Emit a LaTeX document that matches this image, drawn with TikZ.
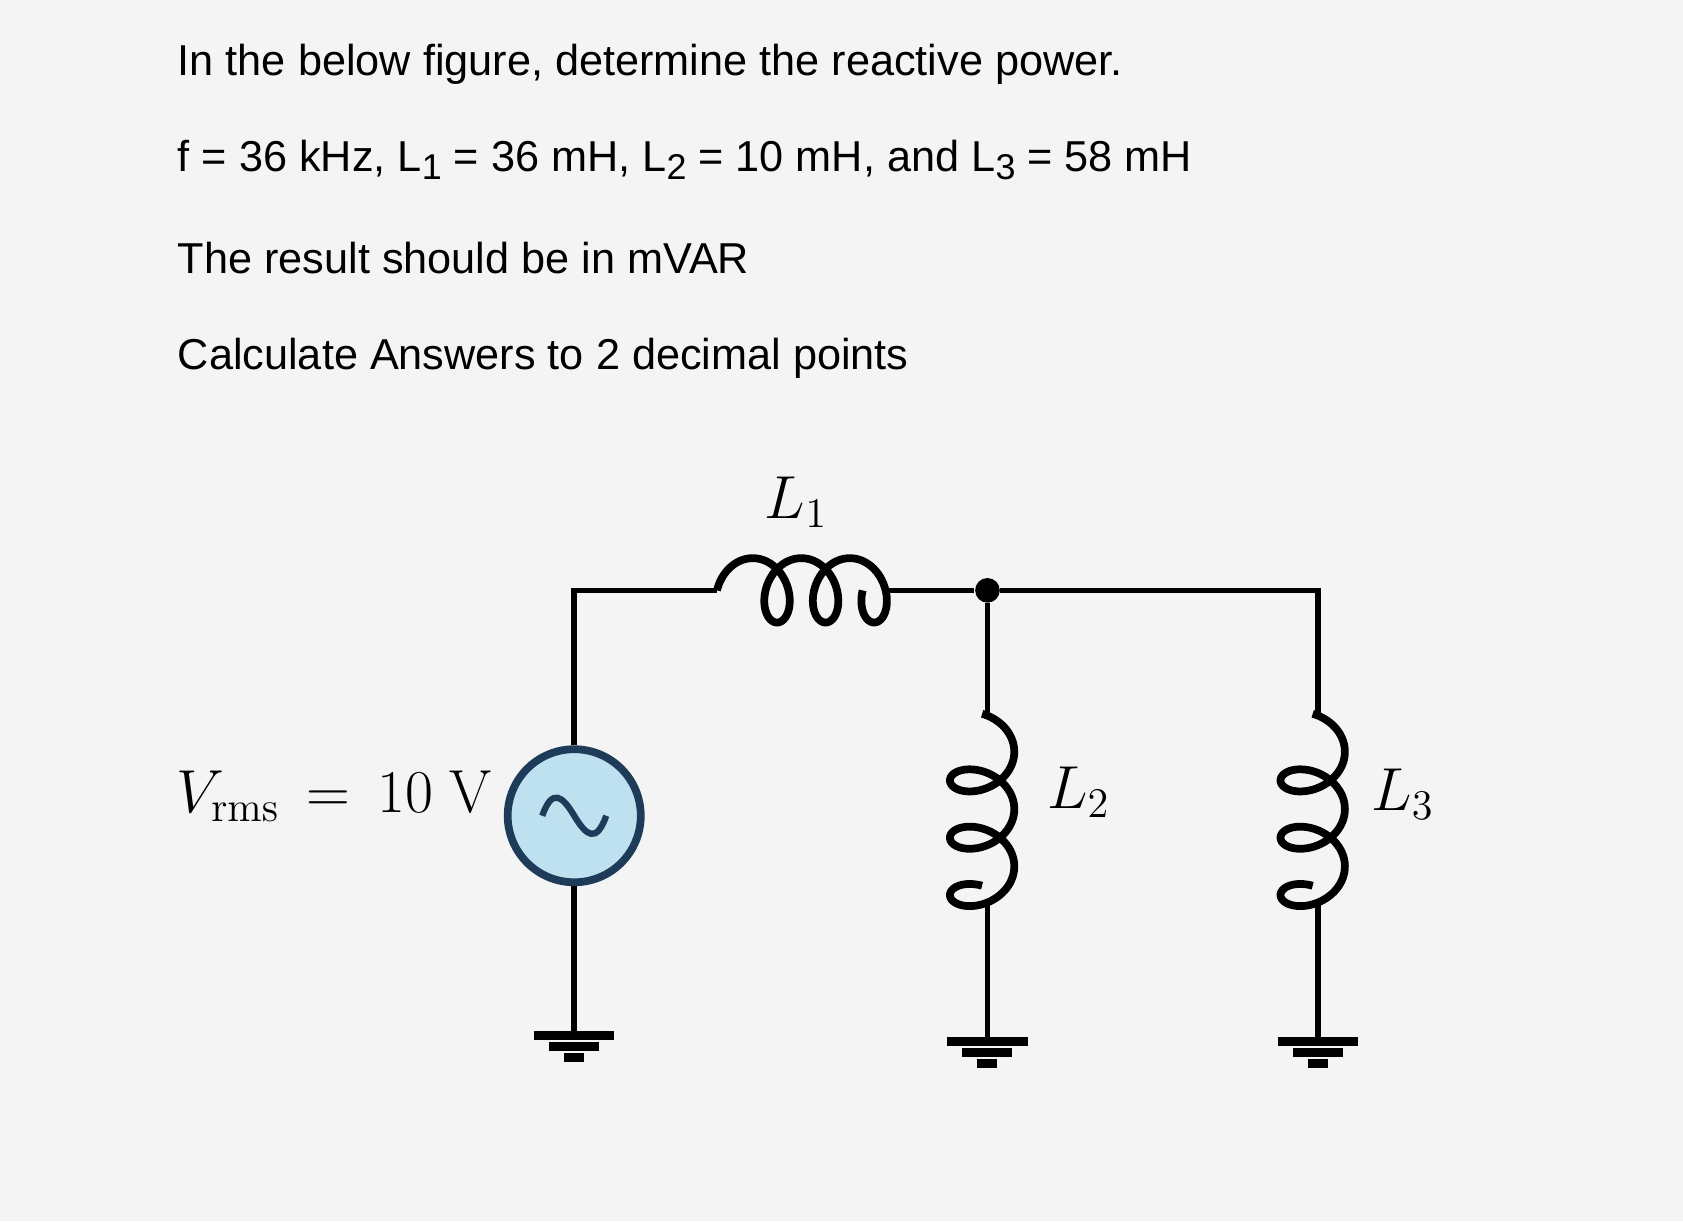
\documentclass[tikz,border=0pt]{standalone}
\usepackage{amsmath}
\usepackage[no-math]{fontspec}
\setmainfont{Liberation Sans}
\usetikzlibrary{positioning}
\definecolor{srcfill}{RGB}{190,225,240}
\definecolor{srcdraw}{RGB}{30,60,90}
\newcommand{\lsub}[1]{\raisebox{-0.35ex}{\fontsize{10.2}{12}\selectfont #1}}
\tikzset{
  wire/.style={line width=1.6pt},
  coil/.style={line width=2.2pt},
  qtext/.style={anchor=base west, font=\fontsize{12.3}{15}\selectfont, inner sep=0pt},
  lbl/.style={font=\fontsize{17}{20}\selectfont, inner sep=0pt},
  gnd/.style={line width=2.6pt}
}
\begin{document}
\begin{tikzpicture}[x=0.010733cm, y=-0.010733cm]
\fill[gray!9] (0,0) rectangle (1568,1138);
\useasboundingbox (0,0) rectangle (1568,1138);

% question text
\node (q1) [qtext] at (165,70) {In the below figure, determine the reactive power.};
\node (q2) [qtext] at (165,160) {f = 36 kHz, L\lsub{1} = 36 mH, L\lsub{2} = 10 mH, and L\lsub{3} = 58 mH};
\node (q3) [qtext] at (165,255) {The result should be in mVAR};
\node (q4) [qtext] at (165,344) {Calculate Answers to 2 decimal points};

% circuit
\node (src) [circle, draw=srcdraw, fill=srcfill, line width=2.2pt, minimum size=1.33cm, inner sep=0pt] at (535,760) {};
\draw[line width=1.8pt, srcdraw] ([xshift=-0.32cm]src.center) .. controls +(0.1cm,0.28cm) and +(-0.12cm,0.2cm) .. (src.center) .. controls +(0.12cm,-0.2cm) and +(-0.1cm,-0.28cm) .. ([xshift=0.32cm]src.center);
\coordinate (tl) at (535,550);
\coordinate (l1a) at (668,550);
\coordinate (l1b) at (826,550);
\coordinate (top) at (1228,550);
\coordinate (l2a) at (920,665);
\coordinate (l2b) at (920,840);
\coordinate (l3a) at (1228,665);
\coordinate (l3b) at (1228,840);
\coordinate (g1) at (535,965);
\coordinate (g2) at (920,970);
\coordinate (g3) at (1228,970);
\node (nA) [circle, fill, inner sep=0pt, minimum size=7pt] at (920,550) {};

\draw[wire] (src.north) -- (tl) -- (l1a);
\draw[coil] plot[domain=0:18.85, samples=200, smooth] ({690+7.2*\x-22*cos(\x r)}, {550-30*sin(\x r)});
\draw[wire] (l1b) -- (nA) -- (top) -- (l3a);
\draw[wire] (nA) -- (l2a);
\draw[coil] plot[domain=0:18.85, samples=200, smooth] ({915+30*sin(\x r)}, {687+8.5*\x-22*cos(\x r)});
\draw[coil] plot[domain=0:18.85, samples=200, smooth] ({1223+30*sin(\x r)}, {687+8.5*\x-22*cos(\x r)});
\draw[wire] (src.south) -- (g1);
\draw[wire] (l2b) -- (g2);
\draw[wire] (l3b) -- (g3);

% grounds
\foreach \g in {g1,g2,g3}{
  \draw[gnd] ([xshift=-0.4cm]\g) -- ([xshift=0.4cm]\g);
  \draw[gnd] ([xshift=-0.25cm,yshift=-0.11cm]\g) -- ([xshift=0.25cm,yshift=-0.11cm]\g);
  \draw[gnd] ([xshift=-0.1cm,yshift=-0.22cm]\g) -- ([xshift=0.1cm,yshift=-0.22cm]\g);
}

% labels
\node (vl) [lbl] at (312,742) {$V_{\mathrm{rms}} \,=\, 10\ \mathrm{V}$};
\node (lb1) [lbl] at (742,468) {$L_1$};
\node (lb2) [lbl] at (1005,738) {$L_2$};
\node (lb3) [lbl] at (1307,740) {$L_3$};
\end{tikzpicture}
\end{document}
